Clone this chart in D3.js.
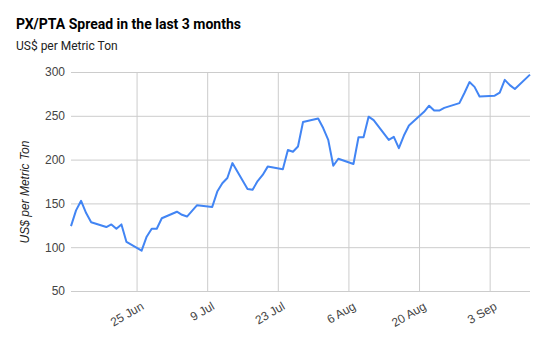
<!DOCTYPE html>
<html>
<head>
<meta charset="utf-8">
<script src="https://cdn.jsdelivr.net/npm/d3@7"></script>
<style>
  body { margin: 0; background: #fff; }
  svg { display: block; }
</style>
</head>
<body>
<svg id="chart"></svg>
<script>
// Trading days and spread values (US$/t)
const dates = [
  "2023-06-12", "2023-06-13", "2023-06-14", "2023-06-15", "2023-06-16",
  "2023-06-19", "2023-06-20", "2023-06-21", "2023-06-22", "2023-06-23",
  "2023-06-26", "2023-06-27", "2023-06-28", "2023-06-29", "2023-06-30",
  "2023-07-03", "2023-07-04", "2023-07-05", "2023-07-06", "2023-07-07",
  "2023-07-10", "2023-07-11", "2023-07-12", "2023-07-13", "2023-07-14",
  "2023-07-17", "2023-07-18", "2023-07-19", "2023-07-20", "2023-07-21",
  "2023-07-24", "2023-07-25", "2023-07-26", "2023-07-27", "2023-07-28",
  "2023-07-31", "2023-08-01", "2023-08-02", "2023-08-03", "2023-08-04",
  "2023-08-07", "2023-08-08", "2023-08-09", "2023-08-10", "2023-08-11",
  "2023-08-14", "2023-08-15", "2023-08-16", "2023-08-17", "2023-08-18",
  "2023-08-21", "2023-08-22", "2023-08-23", "2023-08-24", "2023-08-25",
  "2023-08-28", "2023-08-29", "2023-08-30", "2023-08-31", "2023-09-01",
  "2023-09-04", "2023-09-05", "2023-09-06", "2023-09-07", "2023-09-08",
  "2023-09-11"
];
const spread = [
  124, 142, 153, 139, 128.5,
  123, 126, 121, 126, 106,
  96, 112, 121, 121, 133,
  140.5, 137, 135, 141.5, 148,
  146, 163.5, 173, 179, 196,
  166.5, 165.5, 175.5, 182.5, 192,
  189, 211, 209, 215, 243,
  247, 236, 222.5, 193, 201,
  195, 225.5, 225.5, 249, 245,
  222.5, 226, 213, 227.5, 239,
  254.5, 261.5, 256, 256, 259,
  264.5, 276, 288.5, 283, 272,
  273, 276.5, 291, 285, 280.5,
  297
];
const tickDates = ["2023-06-25", "2023-07-09", "2023-07-23", "2023-08-06", "2023-08-20", "2023-09-03"];
const yTicks = [50, 100, 150, 200, 250, 300];

const W = 547, H = 337;
const plot = { left: 71, right: 530, top: 72, bottom: 291 };

const parse = d3.utcParse("%Y-%m-%d");
const fmt = d3.utcFormat("%-d %b");
const data = dates.map((d, i) => ({ date: parse(d), value: spread[i] }));

const svg = d3.select("#chart").attr("width", W).attr("height", H);

const x = d3.scaleUtc()
    .domain(d3.extent(data, d => d.date))
    .range([plot.left, plot.right]);

const y = d3.scaleLinear()
    .domain([50, 300])
    .range([plot.bottom, plot.top]);

// Title + subtitle
svg.append("text")
    .attr("x", 16).attr("y", 29)
    .style("font-family", "Roboto, sans-serif")
    .style("font-size", "14px")
    .style("font-weight", "bold")
    .attr("fill", "#000")
    .text("PX/PTA Spread in the last 3 months");

svg.append("text")
    .attr("x", 16).attr("y", 50)
    .style("font-family", "Roboto, sans-serif")
    .style("font-size", "12px")
    .attr("fill", "#222")
    .text("US$ per Metric Ton");

// y grid + labels
const yAxis = svg.append("g")
    .attr("transform", "translate(" + plot.left + ",0)")
    .call(d3.axisLeft(y).tickValues(yTicks).tickSize(-(plot.right - plot.left)).tickPadding(6));
yAxis.select(".domain").remove();
yAxis.selectAll("line").attr("stroke", "#ccc");
yAxis.selectAll("text")
    .style("font-family", "'Liberation Sans', Arial, sans-serif")
    .style("font-size", "12px")
    .attr("fill", "#444");

// x grid
const xTicks = tickDates.map(parse);
const xAxis = svg.append("g")
    .attr("transform", "translate(0," + plot.bottom + ")")
    .call(d3.axisBottom(x).tickValues(xTicks).tickSize(-(plot.bottom - plot.top)).tickFormat(""));
xAxis.select(".domain").remove();
xAxis.selectAll("line").attr("stroke", "#ccc");

// x labels, rotated
svg.append("g").selectAll("text")
    .data(xTicks)
    .enter().append("text")
    .attr("transform", d => "translate(" + (x(d) + 6) + "," + (plot.bottom + 14) + ") rotate(-30)")
    .attr("text-anchor", "end")
    .attr("dy", "0.35em")
    .style("font-family", "'Liberation Sans', Arial, sans-serif")
    .style("font-size", "12px")
    .attr("fill", "#444")
    .text(d => fmt(d));

// y axis title
svg.append("text")
    .attr("transform", "translate(29,192) rotate(-90)")
    .attr("text-anchor", "middle")
    .style("font-family", "'Liberation Sans', Arial, sans-serif")
    .style("font-size", "12px")
    .style("font-style", "italic")
    .attr("fill", "#222")
    .text("US$ per Metric Ton");

// the line
const line = d3.line()
    .x(d => x(d.date))
    .y(d => y(d.value));

svg.append("path")
    .datum(data)
    .attr("fill", "none")
    .attr("stroke", "#4285f4")
    .attr("stroke-width", 2)
    .attr("stroke-linejoin", "round")
    .attr("d", line);
</script>
</body>
</html>
